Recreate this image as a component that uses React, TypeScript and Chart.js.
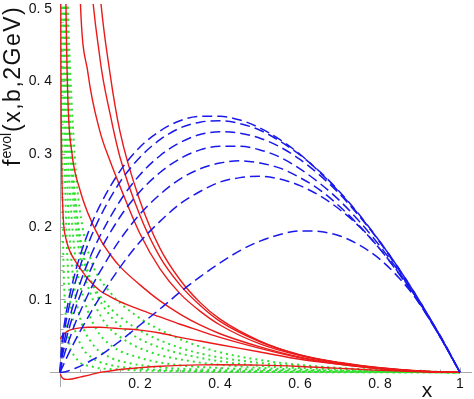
import React, { useEffect, useRef } from 'react';
import { Chart, registerables } from 'chart.js';

Chart.register(...registerables);

// ---------- data ----------
const xsBlue = [0, 0.005, 0.01, 0.02, 0.04, 0.06, 0.08, 0.1, 0.15, 0.2, 0.25, 0.3, 0.35, 0.4, 0.45, 0.5, 0.55, 0.6, 0.65, 0.7, 0.75, 0.8, 0.85, 0.9, 0.95, 1];
const blue1 = [0, 0.042, 0.063, 0.095, 0.141, 0.176, 0.205, 0.229, 0.276, 0.309, 0.331, 0.345, 0.351, 0.351, 0.346, 0.335, 0.319, 0.299, 0.274, 0.246, 0.214, 0.178, 0.138, 0.095, 0.049, 0];
const blue2 = [0, 0.035, 0.054, 0.083, 0.127, 0.161, 0.189, 0.213, 0.261, 0.295, 0.319, 0.335, 0.343, 0.345, 0.341, 0.332, 0.317, 0.298, 0.275, 0.247, 0.215, 0.179, 0.14, 0.097, 0.05, 0];
const blue3 = [0, 0.025, 0.041, 0.066, 0.105, 0.137, 0.164, 0.187, 0.235, 0.271, 0.297, 0.315, 0.326, 0.33, 0.328, 0.321, 0.309, 0.292, 0.27, 0.244, 0.213, 0.179, 0.14, 0.097, 0.05, 0];
const blue4 = [0, 0.02, 0.033, 0.055, 0.09, 0.119, 0.145, 0.167, 0.213, 0.248, 0.274, 0.293, 0.305, 0.31, 0.31, 0.305, 0.295, 0.279, 0.259, 0.235, 0.206, 0.173, 0.136, 0.094, 0.049, 0];
const blue5 = [0, 0.013, 0.023, 0.04, 0.07, 0.095, 0.118, 0.138, 0.182, 0.217, 0.244, 0.265, 0.279, 0.287, 0.29, 0.287, 0.28, 0.267, 0.25, 0.227, 0.2, 0.169, 0.133, 0.093, 0.049, 0];
const blue6 = [0, 0.006, 0.012, 0.024, 0.046, 0.066, 0.085, 0.103, 0.144, 0.179, 0.207, 0.231, 0.248, 0.261, 0.267, 0.269, 0.265, 0.256, 0.242, 0.223, 0.199, 0.169, 0.134, 0.095, 0.05, 0];
const blue7 = [0, 0.0002, 0.0005, 0.002, 0.006, 0.011, 0.017, 0.023, 0.043, 0.065, 0.087, 0.11, 0.131, 0.15, 0.167, 0.18, 0.189, 0.194, 0.193, 0.187, 0.174, 0.155, 0.128, 0.094, 0.051, 0];

const xsRed = [0.001, 0.002, 0.004, 0.007, 0.01, 0.015, 0.02, 0.03, 0.05, 0.07, 0.1, 0.125, 0.15, 0.2, 0.25, 0.3, 0.35, 0.4, 0.5, 0.6, 0.7, 0.8, 0.9, 1];
const redE = [40, 20, 10, 6, 4.5, 3.5, 2.7, 1.8, 1.1, 0.77, 0.52, 0.41, 0.33, 0.235, 0.17, 0.127, 0.096, 0.073, 0.043, 0.024, 0.013, 0.006, 0.0018, 0];
const redD = [40, 20, 10, 6, 4.2, 3.0, 2.3, 1.5, 0.9, 0.6, 0.43, 0.355, 0.295, 0.215, 0.158, 0.12, 0.092, 0.07, 0.042, 0.024, 0.0135, 0.0063, 0.0019, 0];
const redC = [30, 15, 7.5, 4.3, 3, 2, 1.5, 1.0, 0.52, 0.41, 0.33, 0.29, 0.255, 0.19, 0.142, 0.108, 0.084, 0.065, 0.039, 0.023, 0.013, 0.006, 0.0018, 0];
const redB = [8, 4, 2, 1.1, 0.8, 0.5, 0.37, 0.3, 0.25, 0.218, 0.183, 0.162, 0.145, 0.12, 0.098, 0.08, 0.065, 0.053, 0.035, 0.021, 0.012, 0.0055, 0.0017, 0];
const redA = [1.0, 0.5, 0.3, 0.225, 0.198, 0.183, 0.173, 0.16, 0.143, 0.128, 0.112, 0.104, 0.097, 0.086, 0.076, 0.066, 0.057, 0.048, 0.033, 0.02, 0.011, 0.005, 0.0015, 0];
const redHump = [0.046, 0.047, 0.049, 0.051, 0.053, 0.055, 0.057, 0.059, 0.061, 0.062, 0.062, 0.061, 0.06, 0.058, 0.054, 0.048, 0.043, 0.038, 0.028, 0.018, 0.011, 0.005, 0.0015, 0];
const redDip = [-0.002, -0.004, -0.006, -0.008, -0.009, -0.0095, -0.0095, -0.009, -0.0065, -0.004, 0, 0.002, 0.004, 0.0065, 0.0085, 0.0097, 0.0103, 0.0105, 0.01, 0.0082, 0.0055, 0.0028, 0.0009, 0];

const greenX1 = [0.004, 0.005, 0.006, 0.008, 0.012, 0.02, 0.04, 0.08, 0.15, 0.3, 0.5, 0.8, 1.0];
const greenY1 = [0.6, 0.4, 0.28, 0.17, 0.1, 0.05, 0.02, 0.008, 0.004, 0.0015, 0.0007, 0.0002, 0];
const greenX2 = [0.007, 0.009, 0.011, 0.014, 0.02, 0.03, 0.05, 0.08, 0.12, 0.2, 0.3, 0.5, 0.8, 1];
const greenY2 = [0.6, 0.42, 0.32, 0.23, 0.14, 0.08, 0.04, 0.02, 0.011, 0.005, 0.0025, 0.001, 0.0003, 0];
const greenX3 = [0.009, 0.011, 0.014, 0.018, 0.025, 0.035, 0.05, 0.08, 0.12, 0.18, 0.25, 0.35, 0.5, 0.7, 1];
const greenY3 = [0.6, 0.45, 0.34, 0.26, 0.18, 0.12, 0.075, 0.04, 0.022, 0.012, 0.007, 0.004, 0.002, 0.0008, 0];
const greenX4 = [0.011, 0.013, 0.016, 0.02, 0.028, 0.04, 0.06, 0.09, 0.13, 0.2, 0.28, 0.4, 0.55, 0.8, 1];
const greenY4 = [0.6, 0.47, 0.38, 0.3, 0.22, 0.15, 0.1, 0.06, 0.036, 0.02, 0.011, 0.006, 0.003, 0.001, 0];
const greenX5 = [0.012, 0.014, 0.018, 0.024, 0.034, 0.05, 0.075, 0.11, 0.16, 0.23, 0.32, 0.45, 0.6, 0.8, 1];
const greenY5 = [0.6, 0.5, 0.4, 0.31, 0.23, 0.16, 0.11, 0.07, 0.045, 0.027, 0.016, 0.008, 0.004, 0.0015, 0];
const greenX6 = [0.013, 0.016, 0.02, 0.027, 0.038, 0.055, 0.085, 0.125, 0.18, 0.25, 0.35, 0.48, 0.65, 0.85, 1];
const greenY6 = [0.6, 0.49, 0.4, 0.31, 0.23, 0.165, 0.115, 0.078, 0.052, 0.034, 0.02, 0.01, 0.005, 0.0015, 0];
const greenX7 = [0.015, 0.018, 0.022, 0.028, 0.038, 0.052, 0.075, 0.115, 0.175, 0.25, 0.35, 0.5, 0.68, 0.88, 1];
const greenY7 = [0.6, 0.49, 0.4, 0.32, 0.24, 0.18, 0.13, 0.095, 0.066, 0.044, 0.026, 0.013, 0.006, 0.0015, 0];
const greenX8 = [0.017, 0.02, 0.025, 0.032, 0.042, 0.056, 0.08, 0.125, 0.19, 0.27, 0.37, 0.5, 0.7, 0.9, 1];
const greenY8 = [0.6, 0.5, 0.42, 0.34, 0.26, 0.2, 0.15, 0.11, 0.078, 0.053, 0.032, 0.017, 0.006, 0.0015, 0];

const xTickValues = [0.2, 0.4, 0.6, 0.8, 1];
const xTickLabels = ['0. 2', '0. 4', '0. 6', '0. 8', '1'];
const xMinorTicks = [0.05, 0.1, 0.15, 0.25, 0.3, 0.35, 0.45, 0.5, 0.55, 0.65, 0.7, 0.75, 0.85, 0.9, 0.95];
const yTickValues = [0.1, 0.2, 0.3, 0.4, 0.5];
const yTickLabels = ['0. 1', '0. 2', '0. 3', '0. 4', '0. 5'];
const yMinorTicks = [0.02, 0.04, 0.06, 0.08, 0.12, 0.14, 0.16, 0.18, 0.22, 0.24, 0.26, 0.28, 0.32, 0.34, 0.36, 0.38, 0.42, 0.44, 0.46, 0.48];
const yTitleMain = 'f';
const yTitleSup = 'evol';
const yTitleRest = '(x,b,2GeV)';
const xTitle = 'x';

// ---------- helpers ----------
const FONT = '"Liberation Sans", Arial, Helvetica, sans-serif';
const BLUE = 'rgb(25, 25, 235)';
const RED = 'rgb(235, 25, 25)';
const GREEN = 'rgb(45, 225, 45)';

function pts(xs: number[], ys: number[]) {
  return xs.map((x, i) => ({ x, y: ys[i] }));
}

function line(xs: number[], ys: number[], color: string, width: number, dash: number[]) {
  return {
    data: pts(xs, ys),
    borderColor: color,
    backgroundColor: color,
    borderWidth: width,
    borderDash: dash,
    pointRadius: 0,
    pointHoverRadius: 0,
    fill: false,
    cubicInterpolationMode: 'monotone' as const,
  };
}

const axesPlugin = {
  id: 'mmaAxes',
  beforeDatasetsDraw(chart: any) {
    const { ctx, scales } = chart;
    const xs = scales.x;
    const ys = scales.y;
    const x0 = Math.round(xs.getPixelForValue(0)) + 0.5;
    const y0 = Math.round(ys.getPixelForValue(0)) + 0.5;
    ctx.save();
    ctx.strokeStyle = '#a8a8a8';
    ctx.lineWidth = 1;
    ctx.beginPath();
    ctx.moveTo(xs.getPixelForValue(xs.min), y0);
    ctx.lineTo(xs.getPixelForValue(xs.max), y0);
    ctx.moveTo(x0, ys.getPixelForValue(ys.min));
    ctx.lineTo(x0, ys.getPixelForValue(ys.max));
    xTickValues.forEach((v) => {
      const p = Math.round(xs.getPixelForValue(v)) + 0.5;
      ctx.moveTo(p, y0);
      ctx.lineTo(p, y0 - 5);
    });
    xMinorTicks.forEach((v) => {
      const p = Math.round(xs.getPixelForValue(v)) + 0.5;
      ctx.moveTo(p, y0);
      ctx.lineTo(p, y0 - 3);
    });
    yTickValues.forEach((v) => {
      const p = Math.round(ys.getPixelForValue(v)) + 0.5;
      ctx.moveTo(x0, p);
      ctx.lineTo(x0 + 5, p);
    });
    yMinorTicks.forEach((v) => {
      const p = Math.round(ys.getPixelForValue(v)) + 0.5;
      ctx.moveTo(x0, p);
      ctx.lineTo(x0 + 3, p);
    });
    ctx.stroke();
    ctx.restore();
  },
  afterDatasetsDraw(chart: any) {
    const { ctx, scales } = chart;
    const xs = scales.x;
    const ys = scales.y;
    const x0 = xs.getPixelForValue(0);
    const y0 = ys.getPixelForValue(0);
    ctx.save();
    ctx.fillStyle = '#111';
    ctx.font = `14px ${FONT}`;
    ctx.textAlign = 'center';
    ctx.textBaseline = 'alphabetic';
    xTickValues.forEach((v, i) => {
      ctx.fillText(xTickLabels[i], xs.getPixelForValue(v), y0 + 16);
    });
    ctx.textAlign = 'right';
    ctx.textBaseline = 'middle';
    yTickValues.forEach((v, i) => {
      ctx.fillText(yTickLabels[i], x0 - 8, ys.getPixelForValue(v) + 1);
    });
    // x title
    ctx.font = `21px ${FONT}`;
    ctx.textAlign = 'center';
    ctx.textBaseline = 'alphabetic';
    ctx.fillText(xTitle, 427, 397);
    // y title (rotated, with superscript)
    ctx.translate(20, 166);
    ctx.rotate(-Math.PI / 2);
    ctx.textAlign = 'left';
    ctx.font = `23px ${FONT}`;
    ctx.fillText(yTitleMain, 0, 0);
    let w = ctx.measureText(yTitleMain).width;
    ctx.font = `14px ${FONT}`;
    ctx.fillText(yTitleSup, w + 1, -9);
    w += 1 + ctx.measureText(yTitleSup).width;
    ctx.font = `23px ${FONT}`;
    (ctx as any).letterSpacing = '1.5px';
    ctx.fillText(yTitleRest, w + 1, 0);
    ctx.restore();
  },
};

export default function App() {
  const ref = useRef<HTMLCanvasElement | null>(null);
  useEffect(() => {
    if (!ref.current) return;
    const dash = [10, 5];
    const dot = [2, 4];
    const chart = new Chart(ref.current, {
      type: 'line',
      data: {
        datasets: [
          line(xsBlue, blue1, BLUE, 1.5, dash),
          line(xsBlue, blue2, BLUE, 1.5, dash),
          line(xsBlue, blue3, BLUE, 1.5, dash),
          line(xsBlue, blue4, BLUE, 1.5, dash),
          line(xsBlue, blue5, BLUE, 1.5, dash),
          line(xsBlue, blue6, BLUE, 1.5, dash),
          line(xsBlue, blue7, BLUE, 1.5, dash),
          line(xsRed, redE, RED, 1.4, []),
          line(xsRed, redD, RED, 1.4, []),
          line(xsRed, redC, RED, 1.4, []),
          line(xsRed, redB, RED, 1.4, []),
          line(xsRed, redA, RED, 1.4, []),
          line(xsRed, redHump, RED, 1.4, []),
          line(xsRed, redDip, RED, 1.4, []),
          line(greenX1, greenY1, GREEN, 2, dot),
          line(greenX2, greenY2, GREEN, 2, dot),
          line(greenX3, greenY3, GREEN, 2, dot),
          line(greenX4, greenY4, GREEN, 2, dot),
          line(greenX5, greenY5, GREEN, 2, dot),
          line(greenX6, greenY6, GREEN, 2, dot),
          line(greenX7, greenY7, GREEN, 2, dot),
          line(greenX8, greenY8, GREEN, 2, dot),
        ] as any,
      },
      options: {
        animation: false,
        responsive: false,
        devicePixelRatio: 1,
        layout: { padding: { left: 50, right: 2, top: 4, bottom: 12 } },
        scales: {
          x: { type: 'linear', min: -0.025, max: 1.03, display: false },
          y: { type: 'linear', min: -0.02, max: 0.505, display: false },
        },
        plugins: {
          legend: { display: false },
          tooltip: { enabled: false },
        },
        events: [],
      },
      plugins: [axesPlugin],
    });
    return () => chart.destroy();
  }, []);
  return (
    <div style={{ position: 'fixed', left: 0, top: 0, width: 474, height: 399, background: '#fff' }}>
      <canvas ref={ref} width={474} height={399} style={{ display: 'block' }} />
    </div>
  );
}
